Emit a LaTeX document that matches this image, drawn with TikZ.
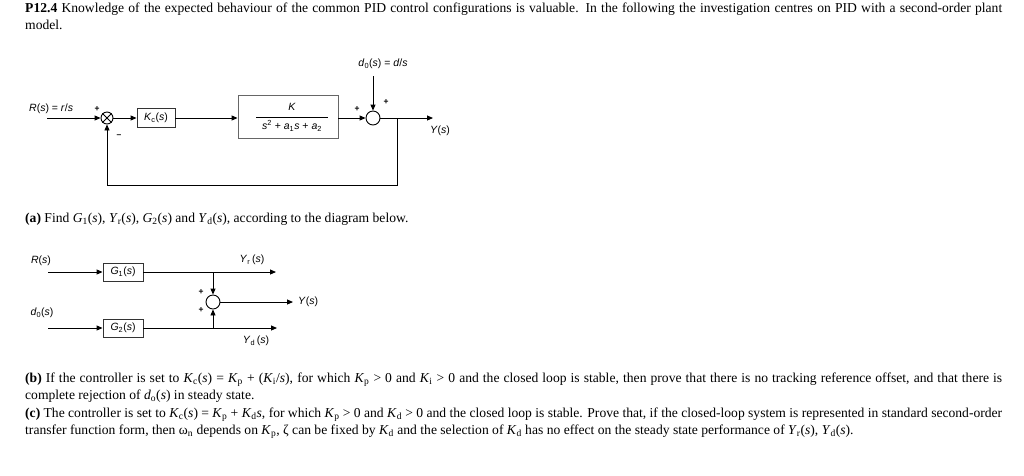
\documentclass[tikz,border=0pt]{standalone}
\usepackage{fontspec}
\setmainfont{Liberation Serif}
\setsansfont{Liberation Sans}
\usetikzlibrary{arrows.meta}
\begin{document}
\begin{tikzpicture}[x=1pt,y=-1pt,
  blk/.style={draw=black!80,line width=0.9pt,fill=white,inner sep=0pt},
  lab/.style={font=\sffamily\fontsize{10.5}{12}\selectfont,inner sep=0pt},
  sgn/.style={font=\sffamily\bfseries\fontsize{8.5}{9}\selectfont,inner sep=0pt},
  sumc/.style={draw,circle,line width=0.9pt,minimum size=14pt,inner sep=0pt},
  ln/.style={line width=0.9pt},
  ar/.style={ln,-{Triangle[length=6pt,width=5pt]}},
  para/.style={anchor=north west,inner sep=0pt,text width=977pt,align=justify,font=\fontsize{13.6}{16.5}\selectfont}]
\useasboundingbox (0,0) rectangle (1024,475);
% header
\node[para] (hdr) at (25,3) {\textbf{P12.4} Knowledge of the expected behaviour of the common PID control configurations is valuable. In the following the investigation centres on PID with a second-order plant\linebreak model.};
% diagram 1
\coordinate (rin) at (47,118);
\node[lab,anchor=south west] (rl) at (29,114) {\textit{R}(\textit{s}) = \textit{r}/\textit{s}};
\node[sumc,minimum size=12pt] (s1) at (107,118) {};
\draw[ln] (s1.45) -- (s1.225) (s1.135) -- (s1.315);
\node[sgn] (p1) at (97,109) {+};
\node[sgn] (m1) at (119,136) {--};
\node[blk,minimum width=38pt,minimum height=19pt] (kc) at (156,118) {\sffamily\fontsize{10.5}{12}\selectfont\textit{K}\textsubscript{c}(\textit{s})};
\node[blk,draw=black!60,minimum width=100pt,minimum height=43pt] (pl) at (288,117) {};
\node[lab] (kk) at (292,107) {\textit{K}};
\draw[ln,line width=0.6pt] (256,117) -- (328,117);
\node[lab] (den) at (292,126) {\textit{s}\textsuperscript{2} + \textit{a}\textsubscript{1}\textit{s} + \textit{a}\textsubscript{2}};
\node[sumc] (s2) at (373,118) {};
\node[sgn] (p2) at (357,109) {+};
\node[sgn] (p3) at (386,102) {+};
\node[lab] (dl) at (383,64) {\textit{d}\textsubscript{0}(\textit{s}) = \textit{d}/\textit{s}};
\coordinate (dtop) at (373,76);
\coordinate (yout) at (433,118);
\coordinate (br) at (397,118);
\node[lab] (yl) at (440,131) {\textit{Y}(\textit{s})};
\draw[ar] (rin) -- (s1);
\draw[ar] (s1) -- (kc);
\draw[ar] (kc) -- (kc-|pl.west);
\draw[ar] (pl.east|-s2) -- (s2);
\draw[ar] (dtop) -- (s2);
\draw[ar] (s2) -- (yout);
\draw[ar] (br) -- (397,185) -- (107,185) -- (s1);
% (a)
\node[para] (pa) at (25,213) {\textbf{(a)} Find \textit{G}\textsubscript{1}(\textit{s}), \textit{Y}\textsubscript{r}(\textit{s}), \textit{G}\textsubscript{2}(\textit{s}) and \textit{Y}\textsubscript{d}(\textit{s}), according to the diagram below.};
% diagram 2
\node[lab] (r2) at (41,261) {\textit{R}(\textit{s})};
\coordinate (r2in) at (48,272);
\node[blk,minimum width=40pt,minimum height=18pt] (g1) at (123,272) {\sffamily\fontsize{10.5}{12}\selectfont\textit{G}\textsubscript{1}(\textit{s})};
\node[lab] (d2) at (42,313) {\textit{d}\textsubscript{0}(\textit{s})};
\coordinate (d2in) at (48,328);
\node[blk,minimum width=40pt,minimum height=18pt] (g2) at (123,328) {\sffamily\fontsize{10.5}{12}\selectfont\textit{G}\textsubscript{2}(\textit{s})};
\node[sumc] (s3) at (213,302) {};
\node[sgn] (p4) at (201,292) {+};
\node[sgn] (p5) at (201,310) {+};
\coordinate (yr) at (276,272);
\coordinate (yd) at (277,328);
\coordinate (y2) at (293,302);
\node[lab] (yrl) at (252,260) {\textit{Y}\textsubscript{r}\,(\textit{s})};
\node[lab] (ydl) at (256,341) {\textit{Y}\textsubscript{d}\,(\textit{s})};
\node[lab,anchor=west] (y2l) at (298,302) {\textit{Y}(\textit{s})};
\draw[ar] (r2in) -- (g1);
\draw[ar] (d2in) -- (g2);
\draw[ar] (g1) -- (yr);
\draw[ar] (g2) -- (yd);
\draw[ar] (213,272) -- (s3);
\draw[ar] (213,328) -- (s3);
\draw[ar] (s3) -- (y2);
% (b), (c)
\node[para] (pb) at (25,373) {\textbf{(b)} If the controller is set to \textit{K}\textsubscript{c}(\textit{s}) = \textit{K}\textsubscript{p} + (\textit{K}\textsubscript{i}/\textit{s}), for which \textit{K}\textsubscript{p} > 0 and \textit{K}\textsubscript{i} > 0 and the closed loop is stable, then prove that there is no tracking reference offset, and that there is\linebreak complete rejection of \textit{d}\textsubscript{o}(\textit{s}) in steady state.};
\node[para] (pc) at (25,408) {\textbf{(c)} The controller is set to \textit{K}\textsubscript{c}(\textit{s}) = \textit{K}\textsubscript{p} + \textit{K}\textsubscript{d}\textit{s}, for which \textit{K}\textsubscript{p} > 0 and \textit{K}\textsubscript{d} > 0 and the closed loop is stable. Prove that, if the closed-loop system is represented in standard second-order transfer function form, then ω\textsubscript{n} depends on \textit{K}\textsubscript{p}, ζ can be fixed by \textit{K}\textsubscript{d} and the selection of \textit{K}\textsubscript{d} has no effect on the steady state performance of \textit{Y}\textsubscript{r}(\textit{s}), \textit{Y}\textsubscript{d}(\textit{s}).};
\end{tikzpicture}
\end{document}
